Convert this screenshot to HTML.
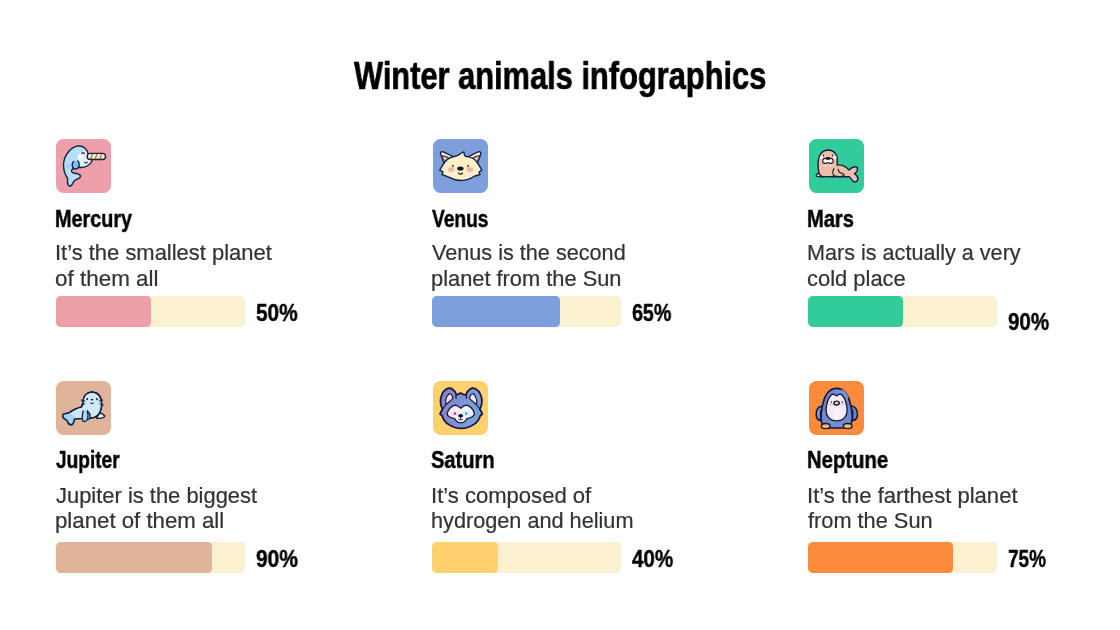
<!DOCTYPE html>
<html><head><meta charset="utf-8"><title>Winter animals infographics</title>
<style>
html,body{margin:0;padding:0;background:#fff;}
body{width:1120px;height:630px;position:relative;overflow:hidden;font-family:"Liberation Sans",sans-serif;}
.t{position:absolute;white-space:nowrap;transform-origin:0 0;margin:0;will-change:transform;}
.b{-webkit-text-stroke:0.45px #000;}
.tt{-webkit-text-stroke:0.7px #000;}
.p{-webkit-text-stroke:0.22px #333;}
.bar{position:absolute;border-radius:4.5px;background:#FBF0CF;overflow:hidden;}
.bar i{position:absolute;left:0;top:0;bottom:0;border-radius:4.5px;display:block;}
.ic{position:absolute;width:55.1px;height:54.7px;border-radius:7.5px;overflow:hidden;}
.ic svg{position:absolute;left:0;top:0;width:100%;height:100%;display:block;}
</style></head><body>
<h1 class="t tt" style="left:354.30px;top:57.03px;font-size:38px;line-height:38px;font-weight:700;color:#000000;transform:scaleX(0.8107)">Winter animals infographics</h1>
<h2 class="t b" style="left:55.01px;top:207.08px;font-size:24px;line-height:24px;font-weight:700;color:#000000;transform:scaleX(0.8245)">Mercury</h2>
<h2 class="t b" style="left:431.80px;top:207.08px;font-size:24px;line-height:24px;font-weight:700;color:#000000;transform:scaleX(0.7986)">Venus</h2>
<h2 class="t b" style="left:806.75px;top:207.08px;font-size:24px;line-height:24px;font-weight:700;color:#000000;transform:scaleX(0.8364)">Mars</h2>
<h2 class="t b" style="left:55.60px;top:448.38px;font-size:24px;line-height:24px;font-weight:700;color:#000000;transform:scaleX(0.7950)">Jupiter</h2>
<h2 class="t b" style="left:431.37px;top:448.38px;font-size:24px;line-height:24px;font-weight:700;color:#000000;transform:scaleX(0.8373)">Saturn</h2>
<h2 class="t b" style="left:806.73px;top:448.38px;font-size:24px;line-height:24px;font-weight:700;color:#000000;transform:scaleX(0.8453)">Neptune</h2>
<p class="t p" style="left:54.93px;top:242.35px;font-size:21.2px;line-height:21.2px;font-weight:400;color:#333333;transform:scaleX(1.0362)">It’s the smallest planet</p>
<p class="t p" style="left:55.19px;top:268.35px;font-size:21.2px;line-height:21.2px;font-weight:400;color:#333333;transform:scaleX(1.0588)">of them all</p>
<p class="t p" style="left:432.24px;top:242.35px;font-size:21.2px;line-height:21.2px;font-weight:400;color:#333333;transform:scaleX(1.0213)">Venus is the second</p>
<p class="t p" style="left:430.95px;top:268.35px;font-size:21.2px;line-height:21.2px;font-weight:400;color:#333333;transform:scaleX(1.0302)">planet from the Sun</p>
<p class="t p" style="left:806.72px;top:242.35px;font-size:21.2px;line-height:21.2px;font-weight:400;color:#333333;transform:scaleX(1.0193)">Mars is actually a very</p>
<p class="t p" style="left:807.47px;top:268.35px;font-size:21.2px;line-height:21.2px;font-weight:400;color:#333333;transform:scaleX(1.0348)">cold place</p>
<p class="t p" style="left:55.98px;top:484.75px;font-size:21.2px;line-height:21.2px;font-weight:400;color:#333333;transform:scaleX(1.0348)">Jupiter is the biggest</p>
<p class="t p" style="left:54.93px;top:510.05px;font-size:21.2px;line-height:21.2px;font-weight:400;color:#333333;transform:scaleX(1.0489)">planet of them all</p>
<p class="t p" style="left:430.92px;top:484.75px;font-size:21.2px;line-height:21.2px;font-weight:400;color:#333333;transform:scaleX(1.0411)">It’s composed of</p>
<p class="t p" style="left:430.97px;top:510.05px;font-size:21.2px;line-height:21.2px;font-weight:400;color:#333333;transform:scaleX(1.0231)">hydrogen and helium</p>
<p class="t p" style="left:806.92px;top:484.75px;font-size:21.2px;line-height:21.2px;font-weight:400;color:#333333;transform:scaleX(1.0413)">It’s the farthest planet</p>
<p class="t p" style="left:807.74px;top:510.05px;font-size:21.2px;line-height:21.2px;font-weight:400;color:#333333;transform:scaleX(1.0271)">from the Sun</p>
<div class="t b" style="left:255.85px;top:301.48px;font-size:24px;line-height:24px;font-weight:700;color:#000000;transform:scaleX(0.8663)">50%</div>
<div class="t b" style="left:632.39px;top:301.28px;font-size:24px;line-height:24px;font-weight:700;color:#000000;transform:scaleX(0.8182)">65%</div>
<div class="t b" style="left:1008.36px;top:310.48px;font-size:24px;line-height:24px;font-weight:700;color:#000000;transform:scaleX(0.8556)">90%</div>
<div class="t b" style="left:256.35px;top:547.23px;font-size:24px;line-height:24px;font-weight:700;color:#000000;transform:scaleX(0.8717)">90%</div>
<div class="t b" style="left:632.29px;top:547.23px;font-size:24px;line-height:24px;font-weight:700;color:#000000;transform:scaleX(0.8571)">40%</div>
<div class="t b" style="left:1007.71px;top:547.23px;font-size:24px;line-height:24px;font-weight:700;color:#000000;transform:scaleX(0.7903)">75%</div>
<div class="bar" style="left:56px;top:296px;width:189px;height:31px"><i style="width:95px;background:#EEA0AA"></i></div>
<div class="bar" style="left:432px;top:296px;width:189px;height:31px"><i style="width:127.5px;background:#7D9FDC"></i></div>
<div class="bar" style="left:808px;top:296px;width:189px;height:31px"><i style="width:95px;background:#31CB9C"></i></div>
<div class="bar" style="left:56px;top:542px;width:189px;height:30.5px"><i style="width:155.5px;background:#E0B499"></i></div>
<div class="bar" style="left:432px;top:542px;width:189px;height:30.5px"><i style="width:66.25px;background:#FFD06E"></i></div>
<div class="bar" style="left:808px;top:542px;width:189px;height:30.5px"><i style="width:145px;background:#FC8B3B"></i></div>
<div class="ic" style="left:56.3px;top:138.8px;background:#EEA0AA"><svg viewBox="-46.6 -37.8 694.3 689.2" preserveAspectRatio="none">
<defs><clipPath id="c1"><path d="M360 150C340 80 290 45 230 50C140 60 50 170 48 290C48 370 80 430 100 460C95 490 95 520 110 545C125 565 145 555 160 530C170 505 180 490 195 480C225 470 260 450 262 430C262 405 220 395 175 390C150 385 140 360 160 340C190 330 230 325 250 320C300 325 360 305 395 260C410 235 410 220 400 215Z"/></clipPath></defs>
<path d="M360 150C340 80 290 45 230 50C140 60 50 170 48 290C48 370 80 430 100 460C95 490 95 520 110 545C125 565 145 555 160 530C170 505 180 490 195 480C225 470 260 450 262 430C262 405 220 395 175 390C150 385 140 360 160 340C190 330 230 325 250 320C300 325 360 305 395 260C410 235 410 220 400 215Z" fill="#B4DFF5"/>
<g clip-path="url(#c1)">
<ellipse cx="330" cy="215" rx="105" ry="105" fill="#E3F3FB"/>
<ellipse cx="265" cy="175" rx="38" ry="30" fill="#F4FBFE"/>
<ellipse cx="110" cy="300" rx="30" ry="40" fill="#9FD5F2"/>
</g>
<path d="M360 150C340 80 290 45 230 50C140 60 50 170 48 290C48 370 80 430 100 460C95 490 95 520 110 545C125 565 145 555 160 530C170 505 180 490 195 480C225 470 260 450 262 430C262 405 220 395 175 390C150 385 140 360 160 340C190 330 230 325 250 320C300 325 360 305 395 260C410 235 410 220 400 215" fill="none" stroke="#17234d" stroke-width="18" stroke-linejoin="round" stroke-linecap="round"/>
<path d="M175 245C150 270 150 320 185 340C220 345 250 320 245 280C243 255 235 240 225 238" fill="#7DC4EC" stroke="#17234d" stroke-width="18" stroke-linejoin="round" stroke-linecap="round"/>
<rect x="346" y="143" width="232" height="78" rx="39" fill="#F5EBC4"/>
<path d="M412 150L392 214M470 150L448 214M528 152L508 214" stroke="#8a6a50" stroke-width="13" fill="none"/>
<rect x="346" y="143" width="232" height="78" rx="39" fill="none" stroke="#17234d" stroke-width="18"/>
<path d="M278 148C285 128 305 128 312 148" fill="none" stroke="#17234d" stroke-width="15" stroke-linecap="round"/>
<path d="M315 255C322 268 340 268 348 255" fill="none" stroke="#17234d" stroke-width="15" stroke-linecap="round"/>
</svg>
</div>
<div class="ic" style="left:432.8px;top:138.8px;background:#7D9FDC"><svg viewBox="-40.3 -37.8 694.3 689.2" preserveAspectRatio="none">
<g stroke="#17234d" stroke-width="18" stroke-linejoin="round" stroke-linecap="round">
<path d="M100 265L55 150C50 125 70 118 90 125L215 185Z" fill="#FBF0C8"/>
<path d="M520 265L562 150C567 125 547 118 527 125L405 185Z" fill="#FBF0C8"/>
<path d="M68 172C110 172 155 195 180 222L108 268Z" fill="#E2BB9E" stroke-width="13"/>
<path d="M552 172C510 172 465 195 440 222L512 268Z" fill="#E2BB9E" stroke-width="13"/>
<path d="M100 262C130 220 170 195 215 185C250 180 275 170 290 160C310 140 330 128 350 125C350 145 355 165 365 178C380 185 395 185 410 187C455 197 495 225 520 262C540 295 560 325 575 355L540 378L552 410L480 432C430 465 370 485 315 485C255 485 195 465 150 440L72 410L85 378L45 355C60 325 80 295 100 262Z" fill="#FBF0C8"/>
</g>
<ellipse cx="187" cy="347" rx="40" ry="30" fill="#F2B4B0"/>
<ellipse cx="427" cy="347" rx="40" ry="30" fill="#F2B4B0"/>
<ellipse cx="210" cy="302" rx="9.5" ry="16" fill="#4a2c2a"/>
<ellipse cx="402" cy="302" rx="9.5" ry="16" fill="#4a2c2a"/>
<ellipse cx="305" cy="335" rx="40" ry="27" fill="#14142a"/>
<path d="M282 392C292 410 322 410 332 392" fill="none" stroke="#2a2038" stroke-width="16" stroke-linecap="round"/>
</svg>
</div>
<div class="ic" style="left:809.4px;top:138.8px;background:#31CB9C"><svg viewBox="-32.8 -37.8 694.3 689.2" preserveAspectRatio="none">
<g stroke="#14203f" stroke-width="18" stroke-linejoin="round" stroke-linecap="round">
<path d="M110 385C80 395 60 410 58 425C60 440 90 440 150 438Z" fill="#F6E3DC"/>
<path d="M95 395C80 340 75 260 95 185C115 130 160 102 210 100C265 102 305 135 320 185C328 225 322 260 322 290C370 282 420 300 472 352C495 330 525 310 555 312C580 318 585 345 570 370C560 385 550 392 540 400C565 415 585 440 585 465C580 495 555 510 530 500C505 485 490 455 475 436C400 440 250 438 140 436C115 430 100 415 95 395Z" fill="#EBBFA8"/>
<path d="M280 338C262 365 262 405 285 428C320 436 380 436 408 428C415 410 395 395 355 385C340 375 335 360 335 345" fill="#EBBFA8" stroke-width="16"/>
</g>
<ellipse cx="125" cy="195" rx="22" ry="26" fill="#FBF1EA"/>
<ellipse cx="292" cy="195" rx="22" ry="26" fill="#FBF1EA"/>
<path d="M178 270L180 305M238 270L236 305" stroke="#FFF8F0" stroke-width="14" stroke-linecap="round"/>
<g stroke="#2a1a22" stroke-width="14">
<circle cx="172" cy="238" r="32" fill="#FFF8EE"/>
<circle cx="240" cy="238" r="32" fill="#FFF8EE"/>
</g>
<ellipse cx="206" cy="236" rx="30" ry="20" fill="#FFF8EE"/>
<ellipse cx="206" cy="207" rx="30" ry="18" fill="#1a1420"/>
<ellipse cx="150" cy="170" rx="9" ry="12" fill="#4a2c2a"/>
<ellipse cx="265" cy="170" rx="9" ry="12" fill="#4a2c2a"/>
</svg>
</div>
<div class="ic" style="left:56.3px;top:380.8px;background:#E0B499"><svg viewBox="-46.6 -37.8 694.3 689.2" preserveAspectRatio="none">
<defs><clipPath id="c4"><path d="M400 100C340 105 300 150 295 210C292 245 290 270 275 288C230 300 170 320 125 360C100 372 70 372 45 382C30 400 40 425 62 440C80 450 92 458 98 470C105 495 125 515 150 513C175 505 182 470 185 440C230 436 330 432 385 430C440 428 490 400 510 350C530 300 535 230 515 175C495 125 450 100 400 100Z"/></clipPath></defs>
<g stroke="#14203f" stroke-width="18" stroke-linejoin="round" stroke-linecap="round">
<path d="M500 360C530 370 560 388 567 405C560 428 520 436 465 432Z" fill="#F1F6FB"/>
<path d="M400 100C340 105 300 150 295 210C292 245 290 270 275 288C230 300 170 320 125 360C100 372 70 372 45 382C30 400 40 425 62 440C80 450 92 458 98 470C105 495 125 515 150 513C175 505 182 470 185 440C230 436 330 432 385 430C440 428 490 400 510 350C530 300 535 230 515 175C495 125 450 100 400 100Z" fill="#CFE8F8"/>
</g>
<g clip-path="url(#c4)"><path d="M30 370L120 365C150 390 190 400 200 440L180 520L90 520Z" fill="#A3D5F3"/></g>
<path d="M400 100C340 105 300 150 295 210C292 245 290 270 275 288C230 300 170 320 125 360C100 372 70 372 45 382C30 400 40 425 62 440C80 450 92 458 98 470C105 495 125 515 150 513C175 505 182 470 185 440C230 436 330 432 385 430C440 428 490 400 510 350C530 300 535 230 515 175C495 125 450 100 400 100Z" fill="none" stroke="#14203f" stroke-width="18" stroke-linejoin="round"/>
<g stroke="#14203f" stroke-width="16" stroke-linejoin="round" stroke-linecap="round">
<path d="M350 340C380 368 390 412 374 444L345 444Z" fill="#A3D5F3"/>
<path d="M296 340C282 390 279 442 293 468C315 480 342 468 352 442C362 405 357 368 347 340" fill="#A3D5F3"/>
<path d="M272 203L318 214M275 262L318 250M500 214L545 203M505 250L552 266" fill="none" stroke-width="12"/>
</g>
<ellipse cx="346" cy="190" rx="11" ry="15" fill="#151a38"/>
<ellipse cx="470" cy="190" rx="11" ry="15" fill="#151a38"/>
<ellipse cx="408" cy="196" rx="15" ry="11" fill="#151a38"/>
<path d="M392 238C398 250 418 250 424 238" fill="none" stroke="#151a38" stroke-width="13" stroke-linecap="round"/>
</svg>
</div>
<div class="ic" style="left:432.8px;top:380.8px;background:#FFD06E"><svg viewBox="-40.3 -37.8 694.3 689.2" preserveAspectRatio="none">
<defs><linearGradient id="g5" x1="0" y1="0" x2="1" y2="0.3"><stop offset="0" stop-color="#8a82c6"/><stop offset="0.5" stop-color="#7f8fd2"/><stop offset="1" stop-color="#7aa0dc"/></linearGradient>
<linearGradient id="m5" x1="0" y1="0" x2="1" y2="0"><stop offset="0" stop-color="#f3e6f2"/><stop offset="0.5" stop-color="#f6f2fa"/><stop offset="1" stop-color="#e6f1f9"/></linearGradient></defs>
<g stroke="#14183c" stroke-width="22" stroke-linejoin="round" stroke-linecap="round">
<path d="M80 320C55 270 45 190 75 125C100 75 150 45 185 55C220 70 245 105 255 135C268 140 285 125 305 112C325 125 342 140 375 135C385 105 410 70 445 55C480 45 530 75 555 125C585 190 575 270 550 320C565 340 578 360 582 378L555 400C545 440 515 485 470 512C420 545 365 560 315 560C265 560 210 545 160 512C115 485 85 440 75 400L48 378C52 360 65 340 80 320Z" fill="url(#g5)"/>
<path d="M165 120C195 130 210 160 208 185C185 210 150 235 125 258C112 230 115 165 165 120Z" fill="#E9E2F5" stroke-width="15"/>
<path d="M465 120C435 130 420 160 422 185C445 210 480 235 505 258C518 230 515 165 465 120Z" fill="#F7EEF3" stroke-width="15"/>
<path d="M310 305C285 280 260 265 238 265C195 275 150 320 138 372C140 405 165 425 232 435C245 460 275 488 310 490C345 488 375 460 388 435C455 425 480 405 482 372C470 320 425 275 382 265C360 265 335 280 310 305Z" fill="url(#m5)" stroke-width="16"/>
<path d="M125 258L88 308M505 258L542 308M253 134C246 150 246 165 252 180M377 134C384 150 384 165 378 180" fill="none" stroke-width="14"/>
</g>
<ellipse cx="232" cy="372" rx="42" ry="34" fill="#f4cfe0" opacity="0.75"/>
<ellipse cx="382" cy="372" rx="42" ry="34" fill="#cfeaf3" opacity="0.75"/>
<circle cx="237" cy="372" r="14" fill="#7a2a5e"/>
<circle cx="378" cy="372" r="14" fill="#2f7f88"/>
<ellipse cx="308" cy="400" rx="31" ry="23" fill="#101428"/>
<path d="M308 420L308 445M284 447C295 455 321 455 332 447" fill="none" stroke="#14183c" stroke-width="11" stroke-linecap="round"/>
</svg>
</div>
<div class="ic" style="left:809.4px;top:380.8px;background:#FC8B3B"><svg viewBox="-32.8 -37.8 694.3 689.2" preserveAspectRatio="none">
<defs><linearGradient id="g6" x1="0" y1="0" x2="1" y2="0.2"><stop offset="0" stop-color="#6d80c6"/><stop offset="0.6" stop-color="#7590d4"/><stop offset="1" stop-color="#6f88cc"/></linearGradient>
<linearGradient id="b6" x1="0" y1="0" x2="1" y2="0"><stop offset="0" stop-color="#efe6f6"/><stop offset="0.5" stop-color="#f8f2fa"/><stop offset="1" stop-color="#ece6f5"/></linearGradient></defs>
<g stroke="#14183c" stroke-width="20" stroke-linejoin="round" stroke-linecap="round">
<path d="M135 275C85 285 55 330 58 390C60 435 85 462 125 458Z" fill="#7c92d6"/>
<path d="M500 275C550 285 580 330 577 390C575 435 550 462 510 458Z" fill="#6c84cb"/>
<path d="M315 55C230 55 165 130 145 240C125 320 110 420 125 480C135 525 170 552 230 555L400 555C460 552 495 525 505 480C520 420 505 320 485 240C465 130 400 55 315 55Z" fill="url(#g6)"/>
<path d="M112 335L112 440M520 335L520 440" fill="none" stroke-width="14"/>
<ellipse cx="178" cy="530" rx="55" ry="32" fill="#FDBC5E" stroke-width="17"/>
<ellipse cx="455" cy="530" rx="55" ry="32" fill="#FDBC5E" stroke-width="17"/>
<path d="M315 150C295 130 270 125 250 135C210 175 185 250 182 330C182 400 225 465 315 465C405 465 448 400 448 330C445 250 420 175 380 135C360 125 335 130 315 150Z" fill="url(#b6)" stroke-width="17"/>
</g>
<path d="M380 80C410 95 440 130 455 170" fill="none" stroke="#8fa8e2" stroke-width="22" stroke-linecap="round" opacity="0.8"/>
<ellipse cx="243" cy="258" rx="30" ry="20" fill="#f6c6cf" opacity="0.85"/>
<ellipse cx="392" cy="258" rx="30" ry="20" fill="#f6c6cf" opacity="0.85"/>
<ellipse cx="250" cy="226" rx="9" ry="12" fill="#4a3a5a"/>
<ellipse cx="385" cy="226" rx="9" ry="12" fill="#4a3a5a"/>
<ellipse cx="315" cy="240" rx="34" ry="24" fill="#E6D2A2" stroke="#1a1830" stroke-width="18"/>
</svg>
</div>
</body></html>
